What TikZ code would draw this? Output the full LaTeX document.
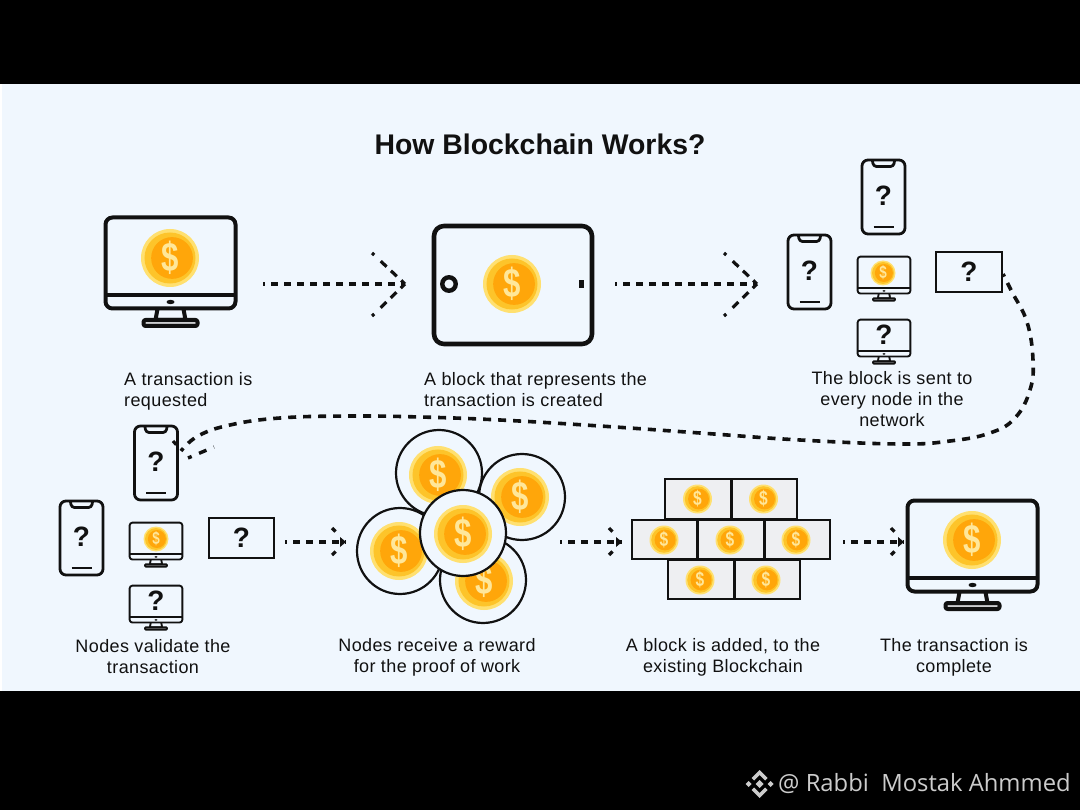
\documentclass[tikz,border=0pt]{standalone}
\usepackage{fontspec}
\setmainfont{Liberation Sans}
\newfontfamily\wmfont{Open Sans}
\definecolor{panel}{HTML}{F0F7FE}
\definecolor{coinA}{HTML}{FFE070}
\definecolor{coinB}{HTML}{FDC42A}
\definecolor{coinC}{HTML}{FFA60A}
\definecolor{coinD}{HTML}{FFE79A}
\definecolor{ink}{HTML}{111111}
\definecolor{brick}{HTML}{EEEFF2}
\tikzset{
  label text/.style={inner sep=0pt,font=\fontsize{18}{21}\selectfont\addfontfeature{LetterSpace=2.2},text=ink},
  dashline/.style={draw=ink,line width=3.4pt,dash pattern=on 7pt off 6pt,dash phase=5pt},
  chevron/.style={draw=ink,line width=3.2pt,dash pattern=on 3pt off 9pt on 8pt off 6pt on 8pt off 6pt on 20pt off 50pt,line cap=butt},
  stub/.style={draw=ink,line width=3.2pt,dash pattern=on 5pt off 60pt},
  tiptri/.style={fill=ink},
  brickbox/.style={draw=ink,line width=1.8pt,fill=brick},
  disc/.style={draw=ink,line width=2.2pt,fill=panel},
  qmark/.style={inner sep=0pt,font=\fontsize{28}{28}\selectfont\bfseries,text=ink},
}
\newcommand\coin[3]{%
  \fill[coinA] (#1,#2) circle[radius=#3];
  \fill[coinB] (#1,#2) circle[radius=#3*0.88];
  \fill[coinC] (#1+#3*0.07,#2) circle[radius=#3*0.72];
  \node[inner sep=0pt,text=coinD,xscale=0.82*#3/29,yscale=1.08*#3/29] at (#1,#2) {\fontsize{38}{38}\selectfont\bfseries\$};
}
\newcommand\monitor[4]{% name, cx, top, scale
  \begin{scope}[shift={(#2,#3)},scale=#4,draw=ink,line width={#4*3.6pt+0.4pt},line join=round]
    \coordinate (#1) at (0,47);
    \draw (-13,93) -- (-15,104) -- (15,104) -- (13,93);
    \draw[fill=brick!70!gray,rounded corners={#4*2pt}] (-27,104) rectangle (27,110);
    \draw[rounded corners={#4*7pt}] (-65,1.5) rectangle (65,92.5);
    \draw (-65,79) -- (65,79);
    \fill[ink] (0,86) ellipse[x radius=4,y radius=2.2];
  \end{scope}%
}
\newcommand\phone[3]{% name, cx, cy
  \begin{scope}[shift={(#2,#3)},draw=ink,line width=2.8pt,line join=round]
    \node[qmark] (#1) at (0,-1) {?};
    \draw[rounded corners=6pt] (-21.5,-37) rectangle (21.5,37);
    \draw[rounded corners=3pt] (-11,-36) -- (-10,-30.5) -- (10,-30.5) -- (11,-36);
    \draw (-10,30) -- (10,30);
  \end{scope}%
}
\newcommand\qbox[3]{% name, cx, cy
  \node[draw=ink,line width=2pt,minimum width=65.5pt,minimum height=40.5pt,inner sep=0pt,font=\fontsize{28}{28}\selectfont\bfseries,text=ink] (#1) at (#2,#3) {?};
}
\begin{document}
\begin{tikzpicture}[x=1pt,y=-1pt]
  \useasboundingbox (0,0) rectangle (1080,810);
  \fill[black] (0,0) rectangle (1080,810);
  \fill[panel] (0,84) rectangle (1080,691);
  \fill[white] (0,84) rectangle (1.5,691);

  \node[inner sep=0pt,font=\fontsize{28.4}{30}\selectfont\bfseries,text=ink] (title) at (540,144) {How Blockchain Works?};

  % step 1
  \monitor{mon1}{170.5}{216}{1}
  \coin{170}{258}{29}
  \node[label text,align=left,anchor=west] (t1) at (124,391) {A transaction is\\requested};

  % arrow 1
  \coordinate (a1s) at (263,284); \coordinate (a1t) at (405,284);
  \coordinate (a1u) at (372,253); \coordinate (a1d) at (372,316);
  \draw[dashline] (a1s) -- (a1t);
  \draw[chevron] (a1u) -- (a1t);
  \draw[chevron] (a1d) -- (a1t);

  % step 2 tablet
  \node[draw=ink,line width=4.6pt,rounded corners=10pt,minimum width=158pt,minimum height=118pt,inner sep=0pt] (tablet) at (513,285) {};
  \node[draw=ink,line width=4.4pt,circle,minimum size=13.5pt,inner sep=0pt] (tbtn) at (449,284) {};
  \node[fill=ink,minimum width=5pt,minimum height=8pt,inner sep=0pt] (tcam) at (581,284) {};
  \coin{512}{284}{29}
  \node[label text,align=left,anchor=west] (t2) at (424,390) {A block that represents the\\transaction is created};

  % arrow 2
  \coordinate (a2s) at (615,284); \coordinate (a2t) at (757,284);
  \coordinate (a2u) at (724,253); \coordinate (a2d) at (724,316);
  \draw[dashline] (a2s) -- (a2t);
  \draw[chevron] (a2u) -- (a2t);
  \draw[chevron] (a2d) -- (a2t);

  % step 3 network
  \phone{p1}{883.5}{197}
  \phone{p2}{809.5}{272}
  \monitor{m2}{884}{256}{0.406}
  \coin{883}{273}{12.5}
  \monitor{m3}{884}{319}{0.406}
  \node[qmark] (q3) at (884,335) {?};
  \qbox{b1}{969}{272}
  \node[label text,align=center] (t3) at (892,399) {The block is sent to\\every node in the\\network};

  % long curve
  \coordinate (cs) at (1003,274); \coordinate (ce) at (181,451);
  \draw[dashline,line width=3.6pt,dash pattern=on 8pt off 7pt,dash phase=5pt] plot[smooth,tension=0.7] coordinates {(cs) (1012,292) (1027,322) (1033,360) (1030,390) (1015,418) (990,433) (950,441) (900,444) (800,440) (700,433) (600,426) (500,420) (420,417) (350,416) (280,418) (230,425) (198,436) (ce)};
  \coordinate (cu) at (173,441); \coordinate (cm) at (188,458); \coordinate (cd) at (214,447);
  \draw[stub] (cu) -- (cm);
  \draw[draw=ink,line width=3.4pt,dash pattern=on 4pt off 8pt on 8pt off 8pt on 3pt off 9pt] (cm) -- (cd);

  % step 4 validate
  \phone{p3}{156}{463}
  \phone{p4}{81.5}{538}
  \monitor{m4}{156}{522}{0.406}
  \coin{156}{539}{12.5}
  \monitor{m5}{156}{585}{0.406}
  \node[qmark] (q5) at (156,601) {?};
  \qbox{b2}{241.5}{538}
  \node[label text,align=center] (t4) at (153,657) {Nodes validate the\\transaction};

  % small arrow 1
  \coordinate (a3s) at (285,542); \coordinate (a3t) at (346,542);
  \coordinate (a3u) at (332,528); \coordinate (a3d) at (332,555);
  \draw[dashline] (a3s) -- (a3t);
  \draw[stub] (a3u) -- (a3t);
  \draw[stub] (a3d) -- (a3t);
  \fill[tiptri] (a3t) -- ++(-6,-5) -- ++(0,10) -- cycle;

  % discs
  \node[disc,circle,minimum size=86pt,inner sep=0pt] (d4) at (483,580) {};
  \coin{484}{581}{29}
  \node[disc,circle,minimum size=86pt,inner sep=0pt] (d3) at (400,551) {};
  \coin{399}{551}{29}
  \node[disc,circle,minimum size=86pt,inner sep=0pt] (d1) at (439,473) {};
  \coin{438}{475}{29}
  \node[disc,circle,minimum size=86pt,inner sep=0pt] (d2) at (522,497) {};
  \coin{520}{497}{29}
  \node[disc,circle,minimum size=86pt,inner sep=0pt] (d5) at (463,533) {};
  \coin{463}{534}{29}
  \node[label text,align=center] (t5) at (437,657) {Nodes receive a reward\\for the proof of work};

  % small arrow 2
  \coordinate (a4s) at (560,542); \coordinate (a4t) at (622,542);
  \coordinate (a4u) at (609,528); \coordinate (a4d) at (609,555);
  \draw[dashline] (a4s) -- (a4t);
  \draw[stub] (a4u) -- (a4t);
  \draw[stub] (a4d) -- (a4t);
  \fill[tiptri] (a4t) -- ++(-6,-5) -- ++(0,10) -- cycle;

  % bricks
  \draw[brickbox] (665,479) rectangle (731,519);
  \draw[brickbox] (731,479) rectangle (797,519);
  \draw[brickbox] (632,520) rectangle (697.5,559);
  \draw[brickbox] (697.5,520) rectangle (764,559);
  \draw[brickbox] (764,520) rectangle (830,559);
  \draw[brickbox] (668,560) rectangle (734,599);
  \draw[brickbox] (734,560) rectangle (800,599);
  \draw[ink,line width=3pt] (731,479) -- (731,519) (697.5,520) -- (697.5,559) (764,520) -- (764,559) (734,560) -- (734,599);
  \coin{697.5}{499}{14.5}
  \coin{763.5}{499}{14.5}
  \coin{664}{540}{14.5}
  \coin{730}{540}{14.5}
  \coin{796}{540}{14.5}
  \coin{700}{580}{14.5}
  \coin{766}{580}{14.5}
  \node[label text,align=center] (t6) at (723,657) {A block is added, to the\\existing Blockchain};

  % small arrow 3
  \coordinate (a5s) at (843,542); \coordinate (a5t) at (904,542);
  \coordinate (a5u) at (891,528); \coordinate (a5d) at (891,555);
  \draw[dashline] (a5s) -- (a5t);
  \draw[stub] (a5u) -- (a5t);
  \draw[stub] (a5d) -- (a5t);
  \fill[tiptri] (a5t) -- ++(-6,-5) -- ++(0,10) -- cycle;

  % step 8
  \monitor{mon2}{972.5}{499}{1}
  \coin{972}{540}{29}
  \node[label text,align=center] (t7) at (954,657) {The transaction is\\complete};

  % watermark
  \begin{scope}[shift={(759.5,784)},fill=white!80!black]
    \fill (-14,0) -- (-11,-3) -- (-8,0) -- (-11,3) -- cycle;
    \fill (14,0) -- (11,-3) -- (8,0) -- (11,3) -- cycle;
    \fill (0,-4) -- (4,0) -- (0,4) -- (-4,0) -- cycle;
    \fill (0,-14) -- (8,-6) -- (5.5,-3.5) -- (0,-9) -- (-5.5,-3.5) -- (-8,-6) -- cycle;
    \fill (0,14) -- (8,6) -- (5.5,3.5) -- (0,9) -- (-5.5,3.5) -- (-8,6) -- cycle;
  \end{scope}
  \node[inner sep=0pt,anchor=west,text=white!80!black,font=\wmfont\fontsize{23.8}{26}\selectfont] (wm) at (778,784) {@ Rabbi\ \ Mostak Ahmmed};
\end{tikzpicture}
\end{document}
